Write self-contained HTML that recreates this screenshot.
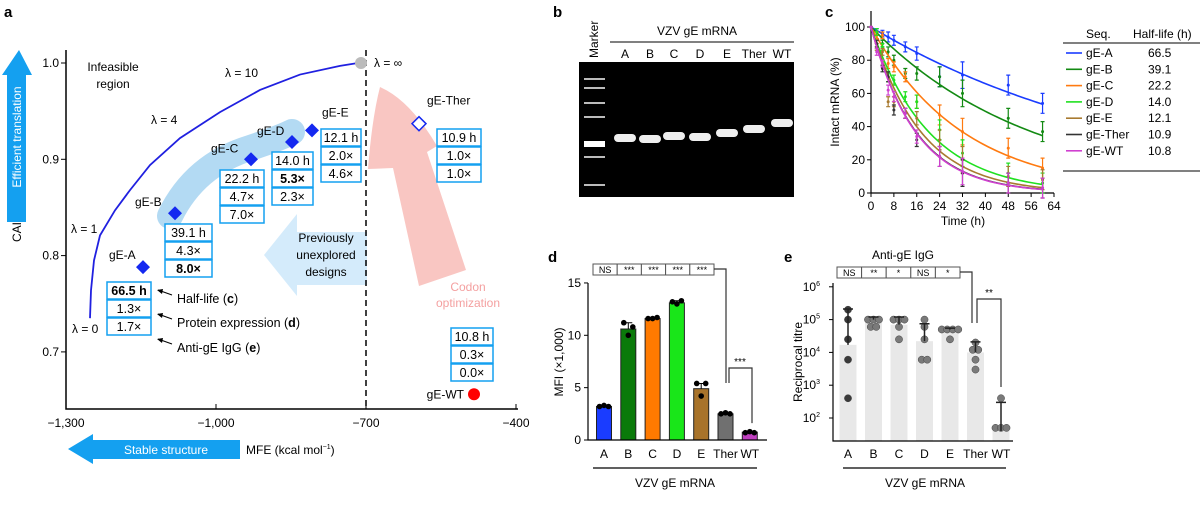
<!DOCTYPE html>
<html><head><meta charset="utf-8"><style>
html,body{margin:0;padding:0;background:#fff}
svg{display:block;font-family:"Liberation Sans",Arial,sans-serif}
</style></head><body>
<svg id="fig" width="1200" height="508" viewBox="0 0 1200 508">
<g id="pa"></g>
<g id="pb"></g>
<g id="pc"></g>
<g id="pd"></g>
<g id="pe"></g>
</svg>
<script>
// ---------- Panel a data ----------
const aNames=["gE-A","gE-B","gE-C","gE-D","gE-E","gE-Ther"];
const aMFE=[-1146,-1082,-930,-848,-808,-594];
const aCAI=[0.788,0.844,0.900,0.918,0.930,0.937];
const wtMFE=-484, wtCAI=0.656;
const curveMFE=[-1252,-1250,-1244,-1232,-1202,-1172,-1132,-1072,-992,-912,-832,-752,-716];
const curveCAI=[0.735,0.764,0.795,0.821,0.847,0.868,0.894,0.922,0.949,0.972,0.988,0.997,1.0];
const aXTicks=[-1300,-1000,-700,-400];
const aXTickLabels=["\u22121,300","\u22121,000","\u2212700","\u2212400"];
const aYTicks=[0.7,0.8,0.9,1.0];
// ---------- Panel c data ----------
const cTimes=[0,2,4,6,8,12,16,24,32,48,60];
const cSeq=["gE-A","gE-B","gE-C","gE-D","gE-E","gE-Ther","gE-WT"];
const cHalf=[66.5,39.1,22.2,14.0,12.1,10.9,10.8];
const cA=[100,97,96,94,92,88,84,70,71,65,54];
const cB=[100,95,90,85,80,72,72,70,60,45,37];
const cC=[100,95,95,78,76,70,55,47,37,27,15];
const cD=[100,97,88,70,68,58,55,38,24,12,6];
const cE=[100,88,85,55,55,48,45,32,20,10,8];
const cTher=[100,90,75,70,50,48,32,22,12,6,3];
const cWT=[100,85,78,62,58,48,34,22,13,6,3];
const cErr=[0,2,2,3,3,3,4,6,8,6,6];
// ---------- Panel d data ----------
const dCats=["A","B","C","D","E","Ther","WT"];
const dMeans=[3.2,10.6,11.6,13.1,4.9,2.5,0.75];
const dPts=[[3.2,3.3,3.2],[11.2,10.0,10.8],[11.6,11.6,11.7],[13.2,13.0,13.3],[5.4,4.2,5.4],[2.5,2.6,2.5],[0.7,0.8,0.7]];
const dSig=["NS","***","***","***","***"];
// ---------- Panel e data ----------
const eCats=["A","B","C","D","E","Ther","WT"];
const eMeans=[1.7e4,1e5,7e4,2.2e4,5e4,1e4,40];
const ePts=[[2e5,1e5,2.5e4,6e3,4e2],[1e5,1e5,1e5,6e4,6e4],[1e5,1e5,1e5,6e4,2.5e4],[1e5,6e4,2.5e4,6e3,6e3],[5e4,5e4,5e4,5e4,2.5e4],[2e4,1.2e4,1.2e4,6e3,3e3],[4e2,5e1,5e1,5e1]];
const eUpper=[2.1e5,1.2e5,1.2e5,7.5e4,5.5e4,2.1e4,3e2];
const eSig=["NS","**","*","NS","*"];
const eTicks=[2,3,4,5,6];

const NS="http://www.w3.org/2000/svg";
function el(parent,tag,attrs,text){const e=document.createElementNS(NS,tag);for(const k in attrs)e.setAttribute(k,attrs[k]);if(text!==undefined)e.textContent=text;parent.appendChild(e);return e;}

// ================= PANEL A =================
(function(){
const g=document.getElementById('pa');
const X=v=>66+(v+1300)*0.5, Y=v=>63+(1.0-v)*963;
let t=el(g,'text',{x:4,y:17,'font-size':15,'font-weight':'bold'},'a');

let p=el(g,'polygon',{points:'19,50 32,75 26,75 26,222 7,222 7,75 2,75',fill:'#14a0f0'});

t=el(g,'text',{x:17,y:137,fill:'#fff','font-size':12,'text-anchor':'middle',transform:'rotate(-90 17 137)',dy:4},'Efficient translation');

t=el(g,'text',{x:17,y:232,'font-size':12,'text-anchor':'middle',transform:'rotate(-90 17 232)',dy:4},'CAI');

p=el(g,'polygon',{points:'68,449 93,434 93,440 240,440 240,459 93,459 93,464',fill:'#14a0f0'});

t=el(g,'text',{x:166,y:454,fill:'#fff','font-size':12,'text-anchor':'middle'},'Stable structure');

t=el(g,'text',{x:246,y:454,'font-size':12},'MFE (kcal mol');

el(t,'tspan',{dy:-5,'font-size':7},'\u22121');el(t,'tspan',{dy:5},')');
p=el(g,'path',{d:'M419,286 L393,168 L368,169 Q372,118 380,87 Q410,100 437,146 L427,152 L466,270 Z',fill:'#f9c6c2'});

t=el(g,'text',{x:468,y:291,fill:'#f4a0a0','font-size':12,'text-anchor':'middle'},'Codon');

t=el(g,'text',{x:468,y:307,fill:'#f4a0a0','font-size':12,'text-anchor':'middle'},'optimization');

p=el(g,'polygon',{points:'264,255 297,214 297,232 367,232 367,285 297,285 297,296',fill:'#d4ebfb'});

[['Previously',242],['unexplored',259],['designs',276]].forEach((r,i)=>{const tt=el(g,'text',{x:326,y:r[1],'font-size':12,'text-anchor':'middle'},r[0]);
});
p=el(g,'path',{d:'M170,216 Q195,165 250,148 Q280,138 292,132',stroke:'#b3daf3','stroke-width':26,fill:'none','stroke-linecap':'round'});

let a=el(g,'path',{d:'M66,50 V409 H518',stroke:'#000','stroke-width':1.5,fill:'none'});

aXTicks.forEach((v,i)=>{el(g,'line',{x1:X(v),x2:X(v),y1:409,y2:404,stroke:'#000'});
const tt=el(g,'text',{x:X(v),y:427,'font-size':12,'text-anchor':'middle'},aXTickLabels[i]);
});
aYTicks.forEach(v=>{el(g,'line',{x1:66,x2:61,y1:Y(v),y2:Y(v),stroke:'#000'});
const tt=el(g,'text',{x:59,y:Y(v)+4,'font-size':12,'text-anchor':'end'},v.toFixed(1));
});
a=el(g,'line',{x1:X(-700),x2:X(-700),y1:50,y2:409,stroke:'#000','stroke-width':1.5,'stroke-dasharray':'6,4'});

const cp=el(g,'polyline',{points:curveMFE.map((v,i)=>X(v)+','+Y(curveCAI[i])).join(' '),stroke:'#2020e0','stroke-width':1.8,fill:'none'});

let c=el(g,'circle',{cx:X(-710),cy:Y(1.0),r:6,fill:'#bbb'});

[['\u03bb = 10',225,77],['\u03bb = 4',151,124],['\u03bb = 1',71,233],['\u03bb = 0',72,333],['\u03bb = \u221e',374,67]].forEach(r=>{const tt=el(g,'text',{x:r[1],y:r[2],'font-size':12},r[0]);
});
t=el(g,'text',{x:113,y:71,'font-size':12,'text-anchor':'middle'},'Infeasible');
t=el(g,'text',{x:113,y:88,'font-size':12,'text-anchor':'middle'},'region');
const labPos=[[-34,-8],[-40,-7],[-40,-7],[-35,-7],[10,-14],[8,-19]];
aNames.forEach((n,i)=>{const cx=X(aMFE[i]),cy=Y(aCAI[i]);const s=7;
const d=el(g,'polygon',{points:`${cx},${cy-s} ${cx+s},${cy} ${cx},${cy+s} ${cx-s},${cy}`,fill:n==='gE-Ther'?'#fff':'#1428f0',stroke:'#1428f0','stroke-width':n==='gE-Ther'?1.5:0});

const tt=el(g,'text',{x:cx+labPos[i][0],y:cy+labPos[i][1],'font-size':12},n);
});
c=el(g,'circle',{cx:X(wtMFE),cy:Y(wtCAI),r:6,fill:'#f00'});

t=el(g,'text',{x:X(wtMFE)-10,y:Y(wtCAI)+4,'font-size':12,'text-anchor':'end'},'gE-WT');

const tables=[[107,282,44,['66.5 h','1.3\u00d7','1.7\u00d7'],0],[165,224,47,['39.1 h','4.3\u00d7','8.0\u00d7'],2],[220,170,44,['22.2 h','4.7\u00d7','7.0\u00d7'],-1],[272,152,41,['14.0 h','5.3\u00d7','2.3\u00d7'],1],[321,129,40,['12.1 h','2.0\u00d7','4.6\u00d7'],-1],[437,129,44,['10.9 h','1.0\u00d7','1.0\u00d7'],-1],[451,328,42,['10.8 h','0.3\u00d7','0.0\u00d7'],-1]];
tables.forEach(tb=>{const [x,y,w,rows,b]=tb;rows.forEach((r,j)=>{
const rr=el(g,'rect',{x:x,y:y+j*18,width:w,height:17,fill:'#fff',stroke:'#14a0f0','stroke-width':1.5});

const tt=el(g,'text',{x:x+w/2,y:y+j*18+13,'font-size':12.5,'text-anchor':'middle','font-weight':j===b?'bold':'normal'},r);
});});
[['Half-life (','c',')',299],['Protein expression (','d',')',323],['Anti-gE IgG (','e',')',348]].forEach((r,i)=>{
const yy=r[3];el(g,'line',{x1:172,y1:yy-4,x2:158,y2:yy-9,stroke:'#000'});
el(g,'polygon',{points:`157,${yy-9} 163,${yy-10} 162,${yy-5}`,fill:'#000'});
const tt=el(g,'text',{x:177,y:yy+4,'font-size':12.5},r[0]);el(tt,'tspan',{'font-weight':'bold'},r[1]);el(tt,'tspan',{},r[2]);
});
})();

// ================= PANEL B =================
(function(){
const g=document.getElementById('pb');
let t=el(g,'text',{x:553,y:17,'font-size':15,'font-weight':'bold'},'b');
t=el(g,'text',{x:598,y:58,'font-size':12,transform:'rotate(-90 598 58)'},'Marker');
t=el(g,'text',{x:697,y:35,'font-size':12,'text-anchor':'middle'},'VZV gE mRNA');
el(g,'line',{x1:610,x2:794,y1:42,y2:42,stroke:'#000'});
const r=el(g,'rect',{x:579,y:62,width:215,height:135,fill:'#000'});
const lanes=['A','B','C','D','E','Ther','WT'],lx=[625,650,674,700,727,754,782],by=[138,139,136,137,133,129,123];
lanes.forEach((l,i)=>{const tt=el(g,'text',{x:lx[i],y:58,'font-size':12,'text-anchor':'middle'},l);
const b=el(g,'rect',{x:lx[i]-11,y:by[i]-4,width:22,height:8,rx:4,fill:'#eee'});});
[79,88,103,117,142,157,185].forEach((y,i)=>{const b=el(g,'rect',{x:584,y:y-1,width:21,height:i===4?6:2,fill:i===4?'#fff':'#bbb'});});
})();

// ================= PANEL C =================
(function(){
const g=document.getElementById('pc');
const X=v=>871+v*(183/64), Y=v=>193-v*1.66;
const series=[cA,cB,cC,cD,cE,cTher,cWT];
const cols=['#1a3cff','#138a13','#ff7a10','#20e020','#a87a30','#333','#d040d0'];
let t=el(g,'text',{x:825,y:17,'font-size':15,'font-weight':'bold'},'c');
el(g,'path',{d:'M871,11 V193 H1054',stroke:'#000','stroke-width':1.2,fill:'none'});
[0,20,40,60,80,100].forEach(v=>{el(g,'line',{x1:871,x2:867,y1:Y(v),y2:Y(v),stroke:'#000'});const tt=el(g,'text',{x:865,y:Y(v)+4,'font-size':12,'text-anchor':'end'},v);});
[0,8,16,24,32,40,48,56,64].forEach(v=>{el(g,'line',{x1:X(v),x2:X(v),y1:193,y2:197,stroke:'#000'});const tt=el(g,'text',{x:X(v),y:210,'font-size':12,'text-anchor':'middle'},v);});
t=el(g,'text',{x:963,y:225,'font-size':12,'text-anchor':'middle'},'Time (h)');
t=el(g,'text',{x:839,y:102,'font-size':12,'text-anchor':'middle',transform:'rotate(-90 839 102)'},'Intact mRNA (%)');
series.forEach((s,k)=>{
let pts=[];for(let tt=0;tt<=60;tt+=1)pts.push(X(tt)+','+Y(100*Math.pow(0.5,tt/cHalf[k])));
const pl=el(g,'polyline',{points:pts.join(' '),stroke:cols[k],'stroke-width':1.6,fill:'none'});

s.forEach((v,i)=>{const x=X(cTimes[i]),y=Y(v),e=cErr[i]*1.66;
const eb=el(g,'path',{d:`M${x},${y-e} V${y+e} M${x-2},${y-e} H${x+2} M${x-2},${y+e} H${x+2}`,stroke:cols[k],'stroke-width':1.2});

const d=el(g,'circle',{cx:x,cy:y,r:1.5,fill:cols[k]});});});
el(g,'line',{x1:1063,x2:1200,y1:43,y2:43,stroke:'#000'});el(g,'line',{x1:1063,x2:1200,y1:171,y2:171,stroke:'#000'});
t=el(g,'text',{x:1086,y:38,'font-size':12},'Seq.');
t=el(g,'text',{x:1133,y:38,'font-size':12},'Half-life (h)');
cSeq.forEach((n,k)=>{const y=57+k*16.3;
const ln=el(g,'line',{x1:1066,x2:1082,y1:y-4,y2:y-4,stroke:cols[k],'stroke-width':1.6});
let tt=el(g,'text',{x:1086,y:y,'font-size':12},n);
tt=el(g,'text',{x:1148,y:y,'font-size':12},cHalf[k].toFixed(1));});
})();

// ================= PANEL D =================
(function(){
const g=document.getElementById('pd');
const X=i=>604+i*24.3, Y=v=>440-v*10.47;
const cols=['#1a3cff','#0a7a0a','#ff7a00','#19e619','#a8732a','#707070','#c040c0'];
let t=el(g,'text',{x:548,y:262,'font-size':15,'font-weight':'bold'},'d');
dCats.forEach((c,i)=>{
const b=el(g,'rect',{x:X(i)-7.5,y:Y(dMeans[i]),width:15,height:440-Y(dMeans[i]),fill:cols[i],stroke:'#222','stroke-width':1});

const mx=Math.max(...dPts[i]);el(g,'path',{d:`M${X(i)},${Y(dMeans[i])} V${Y(mx)} M${X(i)-4},${Y(mx)} H${X(i)+4}`,stroke:'#000'});
dPts[i].forEach((v,j)=>{const d=el(g,'circle',{cx:X(i)+(j-1)*4.5,cy:Y(v),r:2.8,fill:'#000'});});
const tt=el(g,'text',{x:X(i),y:458,'font-size':12,'text-anchor':'middle'},c);});
el(g,'path',{d:'M588,283 V440 H767',stroke:'#000','stroke-width':1.2,fill:'none'});
[0,5,10,15].forEach(v=>{el(g,'line',{x1:588,x2:584,y1:Y(v),y2:Y(v),stroke:'#000'});const tt=el(g,'text',{x:581,y:Y(v)+4,'font-size':12,'text-anchor':'end'},v);});
t=el(g,'text',{x:563,y:362,'font-size':12,'text-anchor':'middle',transform:'rotate(-90 563 362)'},'MFI (\u00d71,000)');
dSig.forEach((s,i)=>{const r=el(g,'rect',{x:593+i*24.2,y:264,width:24.2,height:11,fill:'#fff',stroke:'#555'});
const tt=el(g,'text',{x:593+i*24.2+12.1,y:273,'font-size':9,'text-anchor':'middle'},s);});
el(g,'path',{d:'M714,269 H726 V383',stroke:'#333',fill:'none','stroke-width':1.2});
el(g,'path',{d:`M729,383 V368 H752 V${Y(dMeans[6])-9}`,stroke:'#333',fill:'none','stroke-width':1.2});
t=el(g,'text',{x:740,y:365,'font-size':10,'text-anchor':'middle'},'***');
el(g,'line',{x1:593,x2:757,y1:468,y2:468,stroke:'#000','stroke-width':1.2});
t=el(g,'text',{x:675,y:487,'font-size':12,'text-anchor':'middle'},'VZV gE mRNA');
})();

// ================= PANEL E =================
(function(){
const g=document.getElementById('pe');
const X=i=>848+i*25.5, Y=v=>418-(Math.log10(v)-2)*32.8;
let t=el(g,'text',{x:784,y:262,'font-size':15,'font-weight':'bold'},'e');
t=el(g,'text',{x:903,y:259,'font-size':12,'text-anchor':'middle'},'Anti-gE IgG');
eCats.forEach((c,i)=>{
const b=el(g,'rect',{x:X(i)-8.5,y:Y(eMeans[i]),width:17,height:441-Y(eMeans[i]),fill:'#e8e8e8'});

const cnt={};
ePts[i].forEach(v=>{const k=Math.round(Math.log10(v)*10);cnt[k]=(cnt[k]||0)+1;});
const used={};
ePts[i].forEach(v=>{const k=Math.round(Math.log10(v)*10);const m=cnt[k];used[k]=(used[k]||0);const off=(used[k]-(m-1)/2)*5.5;used[k]++;
const d=el(g,'circle',{cx:X(i)+off,cy:Y(v),r:3.6,fill:i===0?'#3a3a3a':'#7a7a7a',stroke:'#444','stroke-width':0.5});});
el(g,'path',{d:`M${X(i)},${Y(eMeans[i])} V${Y(eUpper[i])} M${X(i)-5},${Y(eUpper[i])} H${X(i)+5}`,stroke:'#222','stroke-width':1.5});
const tt=el(g,'text',{x:X(i),y:458,'font-size':12,'text-anchor':'middle'},c);});
el(g,'path',{d:'M833,283 V441 H1013',stroke:'#000','stroke-width':1.2,fill:'none'});
eTicks.forEach(v=>{const y=Y(Math.pow(10,v));el(g,'line',{x1:833,x2:829,y1:y,y2:y,stroke:'#000'});
const tt=el(g,'text',{x:820,y:y+4,'font-size':12,'text-anchor':'end'},'10');el(tt,'tspan',{dy:-5,'font-size':7},v);});
t=el(g,'text',{x:802,y:362,'font-size':12,'text-anchor':'middle',transform:'rotate(-90 802 362)'},'Reciprocal titre');
eSig.forEach((s,i)=>{const r=el(g,'rect',{x:837+i*24.6,y:267,width:24.6,height:11,fill:'#fff',stroke:'#555'});
const tt=el(g,'text',{x:837+i*24.6+12.3,y:276,'font-size':9,'text-anchor':'middle'},s);});
el(g,'path',{d:'M960,272 H972 V323',stroke:'#333',fill:'none','stroke-width':1.2});
el(g,'path',{d:'M977,323 V299 H1001 V387',stroke:'#333',fill:'none','stroke-width':1.2});
t=el(g,'text',{x:989,y:296,'font-size':10,'text-anchor':'middle'},'**');
el(g,'line',{x1:843,x2:1006,y1:468,y2:468,stroke:'#000','stroke-width':1.2});
t=el(g,'text',{x:925,y:487,'font-size':12,'text-anchor':'middle'},'VZV gE mRNA');
})();
</script>
</body></html>
